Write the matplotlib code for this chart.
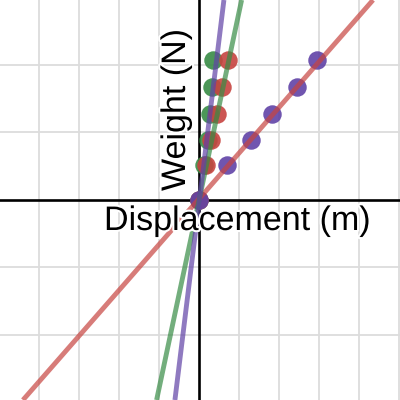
import matplotlib
matplotlib.use("Agg")
import matplotlib.pyplot as plt
import matplotlib.patheffects as pe

# Data
weights = [0.0, 0.259, 0.444, 0.637, 0.835, 1.030]          # Weight (N)
disp_purple = [0.0, 0.69, 1.30, 1.825, 2.45, 2.95]          # Displacement, set A
disp_red = [0.0, 0.168, 0.293, 0.443, 0.568, 0.733]         # Displacement, set B
disp_green = [0.0, 0.133, 0.233, 0.275, 0.333, 0.358]       # Displacement, set C

# Fitted lines (slope, intercept)
line_red = (0.3386, 0.005)
line_green = (1.394, -0.007)
line_purple = (2.419, -0.029)

RED = "#c74440"
GREEN = "#388c46"
PURPLE = "#6042a6"

fig = plt.figure(figsize=(4, 4), dpi=100)
ax = fig.add_axes([0, 0, 1, 1])
ax.set_xlim(-4.975, 5.025)
ax.set_ylim(-1.485, 1.478)

# grid
for gx in [-4, -3, -2, -1, 1, 2, 3, 4, 5]:
    ax.axvline(gx, color="#dcdcdc", lw=1.3, zorder=0)
for gy in [-1.0, -0.5, 0.5, 1.0]:
    ax.axhline(gy, color="#dcdcdc", lw=1.3, zorder=0)
ax.axvline(0, color="black", lw=1.9, zorder=1)
ax.axhline(0, color="black", lw=1.9, zorder=1)

ms = 13.3
ax.plot(disp_green, weights, "o", ms=ms, color=GREEN, alpha=0.9, mec="none", zorder=3)
ax.plot(disp_red, weights, "o", ms=ms, color=RED, alpha=0.9, mec="none", zorder=3)
ax.plot(disp_purple, weights, "o", ms=ms, color=PURPLE, alpha=0.9, mec="none", zorder=3)

for (m, b), c in [(line_red, RED), (line_green, GREEN), (line_purple, PURPLE)]:
    ax.axline((0, b), slope=m, color=c, lw=3.5, alpha=0.7, zorder=4,
              solid_capstyle="butt")

halo = [pe.withStroke(linewidth=3, foreground="white")]
ax.text(104 / 400, 1 - 230 / 400, "Displacement (m)", transform=ax.transAxes,
        ha="left", va="baseline", fontsize=24.5, family="Liberation Sans",
        color="black", zorder=6, path_effects=halo)
ax.text(185 / 400, 1 - 191 / 400, "Weight (N)", transform=ax.transAxes,
        ha="left", va="baseline", rotation=90, rotation_mode="anchor",
        fontsize=24.5, family="Liberation Sans", color="black", zorder=6,
        path_effects=halo)

ax.set_axis_off()
fig.savefig("out.png", dpi=100)
